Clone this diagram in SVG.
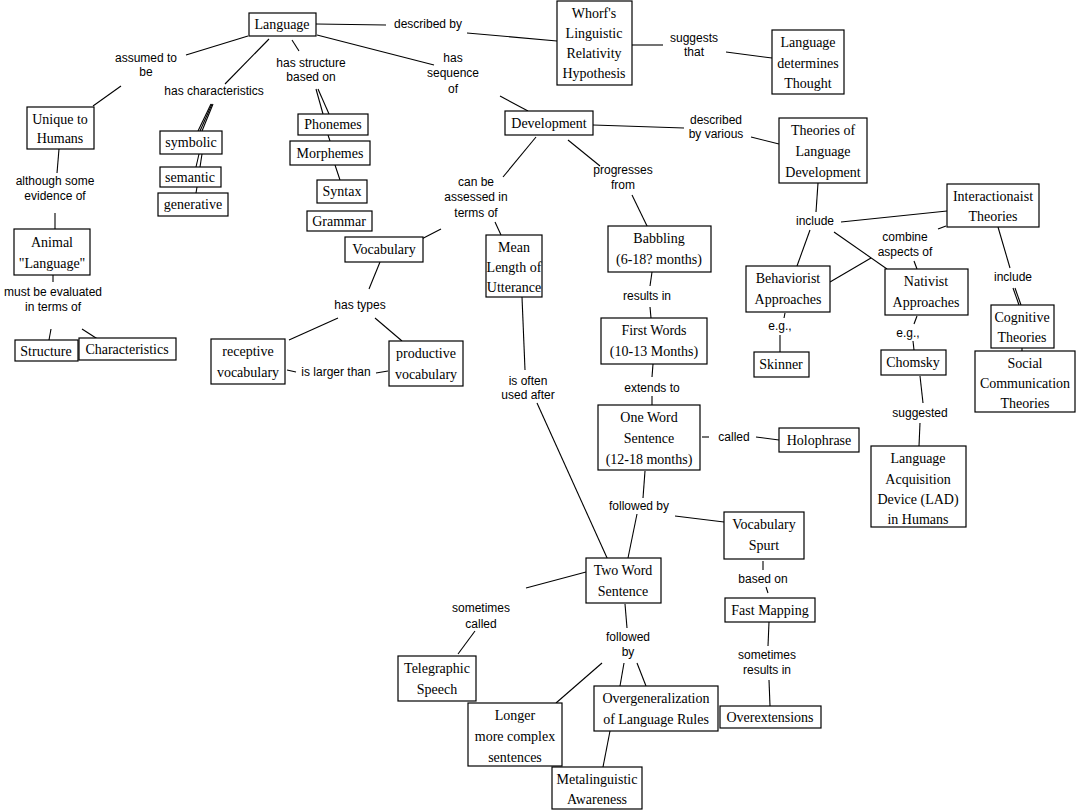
<svg xmlns="http://www.w3.org/2000/svg" width="1082" height="810" viewBox="0 0 1082 810">
<style>
.n rect{fill:#fff;stroke:#000;stroke-width:1.2}
.n text{font-family:"Liberation Serif",serif;font-size:14px;text-anchor:middle;fill:#000}
.l{font-family:"Liberation Sans",Arial,sans-serif;font-size:12px;text-anchor:middle;fill:#000}
#connectors line{stroke:#000;stroke-width:1.1}
</style>
<rect width="1082" height="810" fill="#fff"/>
<g id="connectors">
<line x1="316" y1="24" x2="386" y2="25"/><line x1="467" y1="33" x2="557" y2="41"/>
<line x1="632" y1="45" x2="663" y2="45"/><line x1="726" y1="52" x2="772" y2="58"/>
<line x1="248" y1="36" x2="186" y2="55"/><line x1="121" y1="86" x2="93" y2="106"/>
<line x1="269" y1="39" x2="225" y2="84"/>
<line x1="211" y1="104" x2="198" y2="131"/><line x1="212" y1="104" x2="200" y2="131"/><line x1="213" y1="104" x2="202" y2="131"/>
<line x1="199" y1="154" x2="196" y2="167"/><line x1="202" y1="154" x2="200" y2="167"/><line x1="197" y1="187" x2="196" y2="193"/>
<line x1="292" y1="40" x2="299" y2="51"/>
<line x1="316" y1="89" x2="323" y2="114"/><line x1="318" y1="89" x2="329" y2="114"/>
<line x1="328" y1="135" x2="330" y2="141"/><line x1="335" y1="165" x2="340" y2="180"/>
<line x1="317" y1="35" x2="434" y2="65"/><line x1="500" y1="96" x2="528" y2="111"/>
<line x1="59" y1="149" x2="57" y2="173"/><line x1="55" y1="213" x2="55" y2="229"/>
<line x1="53" y1="275" x2="53" y2="282"/><line x1="51" y1="329" x2="49" y2="340"/><line x1="82" y1="329" x2="110" y2="347"/>
<line x1="536" y1="137" x2="503" y2="177"/><line x1="441" y1="229" x2="408" y2="246"/><line x1="495" y1="222" x2="501" y2="235"/>
<line x1="568" y1="140" x2="600" y2="166"/><line x1="632" y1="195" x2="648" y2="228"/>
<line x1="593" y1="125" x2="684" y2="128"/><line x1="751" y1="137" x2="779" y2="144"/>
<line x1="818" y1="183" x2="816" y2="212"/><line x1="841" y1="222" x2="947" y2="211"/><line x1="810" y1="230" x2="797" y2="266"/>
<line x1="834" y1="232" x2="887" y2="269"/>
<line x1="938" y1="229" x2="946" y2="226"/><line x1="871" y1="258" x2="830" y2="282"/><line x1="914" y1="261" x2="917" y2="269"/>
<line x1="998" y1="227" x2="1010" y2="268"/><line x1="1013" y1="288" x2="1019" y2="305"/><line x1="1015" y1="288" x2="1021" y2="305"/>
<line x1="1022" y1="348" x2="1022" y2="351"/>
<line x1="785" y1="313" x2="784" y2="318"/><line x1="780" y1="335" x2="780" y2="352"/>
<line x1="917" y1="316" x2="914" y2="324"/><line x1="913" y1="341" x2="914" y2="350"/>
<line x1="920" y1="376" x2="923" y2="403"/><line x1="920" y1="423" x2="919" y2="446"/>
<line x1="380" y1="262" x2="369" y2="289"/><line x1="338" y1="318" x2="289" y2="340"/><line x1="375" y1="318" x2="402" y2="341"/>
<line x1="287" y1="370" x2="296" y2="372"/><line x1="376" y1="373" x2="388" y2="371"/>
<line x1="522" y1="297" x2="525" y2="370"/><line x1="537" y1="403" x2="608" y2="560"/>
<line x1="652" y1="272" x2="650" y2="286"/><line x1="650" y1="307" x2="651" y2="318"/>
<line x1="653" y1="364" x2="652" y2="377"/><line x1="652" y1="396" x2="652" y2="405"/>
<line x1="702" y1="437" x2="709" y2="437"/><line x1="756" y1="437" x2="779" y2="440"/>
<line x1="645" y1="471" x2="643" y2="498"/><line x1="637" y1="514" x2="628" y2="558"/>
<line x1="675" y1="516" x2="724" y2="522"/>
<line x1="763" y1="561" x2="763" y2="570"/><line x1="766" y1="587" x2="768" y2="593"/>
<line x1="769" y1="622" x2="768" y2="646"/><line x1="769" y1="680" x2="770" y2="706"/>
<line x1="586" y1="572" x2="526" y2="588"/><line x1="475" y1="631" x2="458" y2="654"/>
<line x1="625" y1="604" x2="627" y2="628"/><line x1="602" y1="663" x2="556" y2="703"/>
<line x1="624" y1="663" x2="620" y2="686"/><line x1="637" y1="663" x2="646" y2="686"/>
<line x1="610" y1="731" x2="603" y2="767"/>
</g>
<g class="l">
<text x="428" y="28">described by</text>
<text x="694" y="42">suggests</text><text x="694" y="56">that</text>
<text x="146" y="62">assumed to</text><text x="146" y="76">be</text>
<text x="214" y="95">has characteristics</text>
<text x="311" y="67">has structure</text><text x="311" y="81">based on</text>
<text x="453" y="62">has</text><text x="453" y="77">sequence</text><text x="453" y="93">of</text>
<text x="55" y="185">although some</text><text x="55" y="200">evidence of</text>
<text x="53" y="296">must be evaluated</text><text x="53" y="311">in terms of</text>
<text x="476" y="186">can be</text><text x="476" y="201">assessed in</text><text x="476" y="217">terms of</text>
<text x="623" y="174">progresses</text><text x="623" y="189">from</text>
<text x="716" y="124">described</text><text x="716" y="138">by various</text>
<text x="815" y="225">include</text>
<text x="905" y="241">combine</text><text x="905" y="256">aspects of</text>
<text x="1013" y="281">include</text>
<text x="360" y="309">has types</text>
<text x="336" y="376">is larger than</text>
<text x="780" y="330">e.g.,</text>
<text x="908" y="337">e.g.,</text>
<text x="647" y="300">results in</text>
<text x="652" y="392">extends to</text>
<text x="528" y="385">is often</text><text x="528" y="399">used after</text>
<text x="920" y="417">suggested</text>
<text x="734" y="441">called</text>
<text x="639" y="510">followed by</text>
<text x="763" y="583">based on</text>
<text x="481" y="612">sometimes</text><text x="481" y="628">called</text>
<text x="628" y="641">followed</text><text x="628" y="656">by</text>
<text x="767" y="659">sometimes</text><text x="767" y="674">results in</text>
</g>
<g id="n-language" class="n"><rect x="249" y="13" width="67" height="23"/><text x="282" y="29">Language</text></g>
<g id="n-whorf" class="n"><rect x="557" y="1" width="75" height="84"/><text x="594" y="18">Whorf's</text><text x="594" y="38">Linguistic</text><text x="594" y="58">Relativity</text><text x="594" y="78">Hypothesis</text></g>
<g id="n-determines" class="n"><rect x="772" y="30" width="72" height="64"/><text x="808" y="47">Language</text><text x="808" y="68">determines</text><text x="808" y="88">Thought</text></g>
<g id="n-unique" class="n"><rect x="27" y="107" width="67" height="42"/><text x="60" y="124">Unique to</text><text x="60" y="143">Humans</text></g>
<g id="n-symbolic" class="n"><rect x="160" y="131" width="62" height="23"/><text x="191" y="147">symbolic</text></g>
<g id="n-semantic" class="n"><rect x="160" y="167" width="61" height="20"/><text x="190" y="182">semantic</text></g>
<g id="n-generative" class="n"><rect x="158" y="193" width="70" height="23"/><text x="193" y="209">generative</text></g>
<g id="n-phonemes" class="n"><rect x="298" y="114" width="70" height="21"/><text x="333" y="129">Phonemes</text></g>
<g id="n-morphemes" class="n"><rect x="290" y="141" width="80" height="24"/><text x="330" y="158">Morphemes</text></g>
<g id="n-syntax" class="n"><rect x="317" y="180" width="50" height="23"/><text x="342" y="196">Syntax</text></g>
<g id="n-grammar" class="n"><rect x="307" y="211" width="65" height="20"/><text x="339" y="226">Grammar</text></g>
<g id="n-animal" class="n"><rect x="14" y="229" width="76" height="46"/><text x="52" y="247">Animal</text><text x="52" y="268">"Language"</text></g>
<g id="n-structure" class="n"><rect x="15" y="340" width="63" height="21"/><text x="46" y="356">Structure</text></g>
<g id="n-characteristics" class="n"><rect x="79" y="338" width="97" height="22"/><text x="127" y="354">Characteristics</text></g>
<g id="n-vocabulary" class="n"><rect x="345" y="237" width="78" height="25"/><text x="384" y="254">Vocabulary</text></g>
<g id="n-receptive" class="n"><rect x="211" y="339" width="74" height="45"/><text x="248" y="356">receptive</text><text x="248" y="377">vocabulary</text></g>
<g id="n-productive" class="n"><rect x="389" y="341" width="74" height="45"/><text x="426" y="358">productive</text><text x="426" y="379">vocabulary</text></g>
<g id="n-mlu" class="n"><rect x="486" y="235" width="56" height="62"/><text x="514" y="252">Mean</text><text x="514" y="272">Length of</text><text x="514" y="292">Utterance</text></g>
<g id="n-development" class="n"><rect x="505" y="111" width="88" height="24"/><text x="549" y="128">Development</text></g>
<g id="n-babbling" class="n"><rect x="608" y="226" width="103" height="46"/><text x="659" y="243">Babbling</text><text x="659" y="264">(6-18? months)</text></g>
<g id="n-firstwords" class="n"><rect x="601" y="318" width="106" height="46"/><text x="654" y="335">First Words</text><text x="654" y="356">(10-13 Months)</text></g>
<g id="n-oneword" class="n"><rect x="598" y="405" width="102" height="65"/><text x="649" y="422">One Word</text><text x="649" y="443">Sentence</text><text x="649" y="464">(12-18 months)</text></g>
<g id="n-holophrase" class="n"><rect x="779" y="428" width="80" height="24"/><text x="819" y="445">Holophrase</text></g>
<g id="n-theories" class="n"><rect x="779" y="118" width="88" height="65"/><text x="823" y="135">Theories of</text><text x="823" y="156">Language</text><text x="823" y="177">Development</text></g>
<g id="n-interaction" class="n"><rect x="947" y="184" width="92" height="43"/><text x="993" y="201">Interactionaist</text><text x="993" y="221">Theories</text></g>
<g id="n-behaviorist" class="n"><rect x="746" y="266" width="84" height="46"/><text x="788" y="283">Behaviorist</text><text x="788" y="304">Approaches</text></g>
<g id="n-nativist" class="n"><rect x="885" y="269" width="83" height="46"/><text x="926" y="286">Nativist</text><text x="926" y="307">Approaches</text></g>
<g id="n-skinner" class="n"><rect x="754" y="352" width="55" height="25"/><text x="781" y="369">Skinner</text></g>
<g id="n-chomsky" class="n"><rect x="881" y="350" width="65" height="25"/><text x="913" y="367">Chomsky</text></g>
<g id="n-lad" class="n"><rect x="871" y="446" width="95" height="81"/><text x="918" y="463">Language</text><text x="918" y="484">Acquisition</text><text x="918" y="504">Device (LAD)</text><text x="918" y="524">in Humans</text></g>
<g id="n-cognitive" class="n"><rect x="991" y="305" width="63" height="43"/><text x="1022" y="322">Cognitive</text><text x="1022" y="342">Theories</text></g>
<g id="n-social" class="n"><rect x="975" y="351" width="100" height="61"/><text x="1025" y="368">Social</text><text x="1025" y="388">Communication</text><text x="1025" y="408">Theories</text></g>
<g id="n-spurt" class="n"><rect x="724" y="512" width="80" height="47"/><text x="764" y="529">Vocabulary</text><text x="764" y="550">Spurt</text></g>
<g id="n-twoword" class="n"><rect x="586" y="558" width="75" height="45"/><text x="623" y="575">Two Word</text><text x="623" y="596">Sentence</text></g>
<g id="n-fastmapping" class="n"><rect x="725" y="598" width="90" height="24"/><text x="770" y="615">Fast Mapping</text></g>
<g id="n-telegraphic" class="n"><rect x="398" y="656" width="78" height="45"/><text x="437" y="673">Telegraphic</text><text x="437" y="694">Speech</text></g>
<g id="n-overgen" class="n"><rect x="594" y="686" width="124" height="45"/><text x="656" y="703">Overgeneralization</text><text x="656" y="724">of Language Rules</text></g>
<g id="n-overext" class="n"><rect x="720" y="706" width="101" height="22"/><text x="770" y="722">Overextensions</text></g>
<g id="n-longer" class="n"><rect x="468" y="703" width="94" height="63"/><text x="515" y="720">Longer</text><text x="515" y="741">more complex</text><text x="515" y="762">sentences</text></g>
<g id="n-metaling" class="n"><rect x="552" y="767" width="90" height="42"/><text x="597" y="784">Metalinguistic</text><text x="597" y="804">Awareness</text></g>
</svg>
